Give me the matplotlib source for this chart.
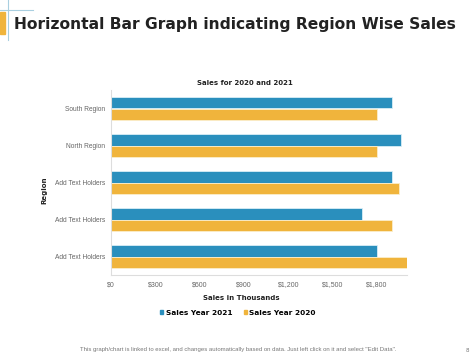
import matplotlib.pyplot as plt
from matplotlib.patches import Patch, Rectangle
from matplotlib.lines import Line2D
from matplotlib.ticker import FuncFormatter
import numpy as np

# Dados
regioes = ["South Region", "North Region", "Add Text Holders", "Add Text Holders", "Add Text Holders"]
vendas_2021 = [1900, 1960, 1900, 1700, 1800]
vendas_2020 = [1800, 1800, 1950, 1900, 2000]
ticks_x = [0, 300, 600, 900, 1200, 1500, 1800]

azul = "#2a8fbd"
amarelo = "#f0b43c"

fig = plt.figure(figsize=(4.74, 3.55), dpi=100)

# Decoração do título (barra amarela e linhas finas)
fig.patches.append(Rectangle((0, 1 - 34 / 355), 5 / 474, 22 / 355, transform=fig.transFigure,
                             color="#f0b43c", zorder=1))
fig.lines.append(Line2D([8 / 474, 8 / 474], [1, 1 - 40 / 355], transform=fig.transFigure,
                        color="#a9cfe0", lw=0.8))
fig.lines.append(Line2D([0, 33 / 474], [1 - 10 / 355, 1 - 10 / 355], transform=fig.transFigure,
                        color="#a9cfe0", lw=0.8))

fig.text(14 / 474, 1 - 24 / 355, "Horizontal Bar Graph indicating Region Wise Sales",
         fontsize=11.2, fontweight="bold", color="#222222", va="center", ha="left",
         family="DejaVu Sans")

ax = fig.add_axes([111 / 474, 1 - 275 / 355, (406.7 - 111) / 474, (275 - 90) / 355])

y = np.arange(len(regioes))
h = 0.31
ax.barh(y - h / 2, vendas_2021, height=h, color=azul, edgecolor="#d9eef7", linewidth=0.6,
        label="Sales Year 2021")
ax.barh(y + h / 2, vendas_2020, height=h, color=amarelo, edgecolor="#fbeecb", linewidth=0.6,
        label="Sales Year 2020")

ax.set_xlim(0, 2000)
ax.set_ylim(len(regioes) - 0.5, -0.5)
ax.set_yticks(y)
ax.set_yticklabels(regioes, fontsize=4.8, color="#666666", family="Liberation Sans")
ax.set_xticks(ticks_x)
ax.xaxis.set_major_formatter(FuncFormatter(lambda v, p: "${:,.0f}".format(v)))
for lbl in ax.get_xticklabels():
    lbl.set_fontsize(5)
    lbl.set_color("#666666")
    lbl.set_family("Liberation Sans")
ax.tick_params(length=0)
ax.tick_params(axis="x", pad=4.5)
ax.tick_params(axis="y", pad=4.3)

for s in ["top", "right"]:
    ax.spines[s].set_visible(False)
ax.spines["left"].set_color("#dddddd")
ax.spines["bottom"].set_color("#dddddd")
ax.spines["left"].set_linewidth(0.8)
ax.spines["bottom"].set_linewidth(0.8)

fig.text(245 / 474, 1 - 83 / 355, "Sales for 2020 and 2021", fontsize=5, fontweight="bold",
         ha="center", va="center", color="#222222")
fig.text(241 / 474, 1 - 298 / 355, "Sales in Thousands", fontsize=5, fontweight="bold",
         ha="center", va="center", color="#222222")
fig.text(44 / 474, 1 - 190 / 355, "Region", fontsize=5, fontweight="bold", rotation=90,
         ha="center", va="center", color="#222222")

handles = [Patch(color=azul, label="Sales Year 2021"), Patch(color=amarelo, label="Sales Year 2020")]
leg = fig.legend(handles=handles, loc="center", bbox_to_anchor=(238 / 474, 1 - 313 / 355),
                 ncol=2, frameon=False, handlelength=0.45, handleheight=0.45,
                 handletextpad=0.3, columnspacing=1.6, prop={"weight": "bold", "size": 5.3})

fig.text(80 / 474, 1 - 350 / 355,
         'This graph/chart is linked to excel, and changes automatically based on data. Just left click on it and select "Edit Data".',
         fontsize=4.35, color="#777777", ha="left", va="center", family="Liberation Sans")
fig.text(467 / 474, 1 - 350 / 355, "8", fontsize=4, color="#777777", ha="center", va="center")

plt.savefig("out.png", dpi=100)
plt.close()
